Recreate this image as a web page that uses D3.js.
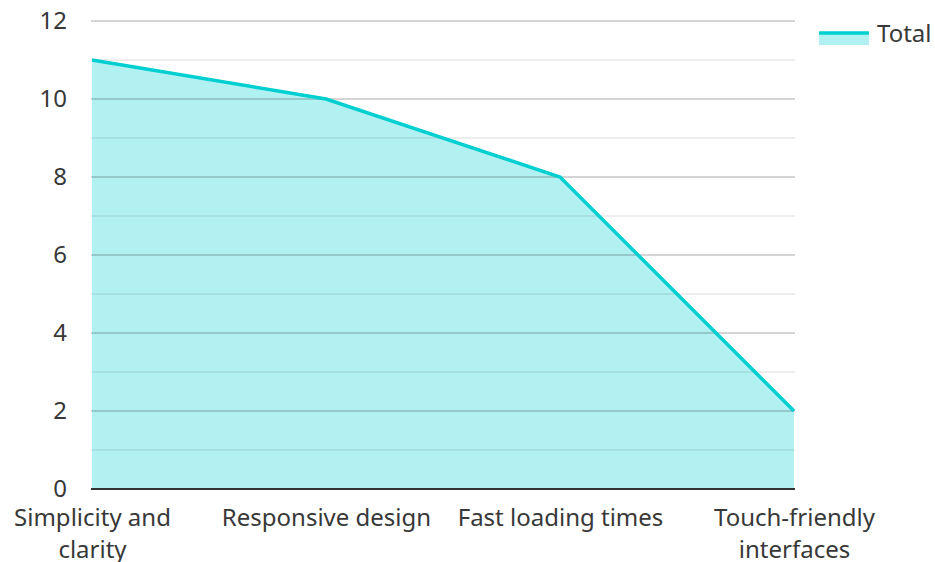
<!DOCTYPE html>
<html>
<head>
<meta charset="utf-8">
<script src="https://cdn.jsdelivr.net/npm/d3@7"></script>
<style>
  html, body { margin: 0; padding: 0; background: #fff; }
  svg { display: block; font-family: "Noto Sans", "Open Sans", sans-serif; }
</style>
</head>
<body>
<svg id="chart" width="935" height="562"></svg>
<script>
// Survey results: priorities for a good interface
const categories = ["Simplicity and clarity", "Responsive design", "Fast loading times", "Touch-friendly interfaces"];
const totals = [11, 10, 8, 2];
const seriesName = "Total";
const yTicks = [0, 2, 4, 6, 8, 10, 12];
const yMinorTicks = [1, 3, 5, 7, 9, 11];

const svg = d3.select("#chart");
const margin = { left: 92, right: 141, top: 21, bottom: 73 };
const W = 935, H = 562;
const fontSize = "24px";

const x = d3.scalePoint()
  .domain(categories)
  .range([margin.left, W - margin.right])
  .padding(0);

const y = d3.scaleLinear()
  .domain([0, 12])
  .range([H - margin.bottom, margin.top]);

const lineColor = "#00cfd1";
const fillColor = "rgba(0, 207, 209, 0.3)";
const textColor = "#383838";

const data = categories.map((c, i) => ({ cat: c, v: totals[i] }));

// filled area under the series
svg.append("path")
  .datum(data)
  .attr("fill", fillColor)
  .attr("d", d3.area()
    .x(d => x(d.cat))
    .y0(y(0))
    .y1(d => y(d.v)));

// grid lines drawn over the fill
const gx0 = margin.left - 1, gx1 = W - margin.right + 1;
svg.append("g").selectAll("line")
  .data(yMinorTicks)
  .join("line")
  .attr("x1", gx0).attr("x2", gx1)
  .attr("y1", d => y(d)).attr("y2", d => y(d))
  .attr("stroke", "rgba(0,0,0,0.09)")
  .attr("stroke-width", 1.5);

svg.append("g").selectAll("line")
  .data(yTicks.filter(t => t !== 0))
  .join("line")
  .attr("x1", gx0).attr("x2", gx1)
  .attr("y1", d => y(d)).attr("y2", d => y(d))
  .attr("stroke", "rgba(0,0,0,0.22)")
  .attr("stroke-width", 1.5);

// series line
svg.append("path")
  .datum(data)
  .attr("fill", "none")
  .attr("stroke", lineColor)
  .attr("stroke-width", 3.5)
  .attr("stroke-linejoin", "miter")
  .attr("d", d3.line()
    .x(d => x(d.cat))
    .y(d => y(d.v)));

// y axis labels
const yAxis = d3.axisLeft(y).tickValues(yTicks).tickSize(0).tickPadding(24);
const gy = svg.append("g")
  .attr("transform", `translate(${gx0},0)`)
  .call(yAxis);
gy.select(".domain").remove();
gy.selectAll("text")
  .attr("fill", textColor)
  .style("font-size", fontSize)
  .style("font-family", "'Noto Sans', 'Open Sans', sans-serif");

// x axis baseline
svg.append("line")
  .attr("x1", gx0).attr("x2", gx1)
  .attr("y1", y(0)).attr("y2", y(0))
  .attr("stroke", "#333")
  .attr("stroke-width", 2);

// x axis labels, wrapped to fit the category spacing
const xAxis = d3.axisBottom(x).tickSize(0).tickPadding(0);
const gxa = svg.append("g")
  .attr("transform", `translate(0,${y(0)})`)
  .call(xAxis);
gxa.select(".domain").remove();

function wrap(textSel, width) {
  textSel.each(function () {
    const text = d3.select(this);
    const words = text.text().split(/\s+/);
    text.text(null);
    let line = [];
    const lines = [];
    const probe = text.append("tspan");
    words.forEach(w => {
      line.push(w);
      probe.text(line.join(" "));
      if (probe.node().getComputedTextLength() > width && line.length > 1) {
        line.pop();
        lines.push(line.join(" "));
        line = [w];
      }
    });
    lines.push(line.join(" "));
    probe.remove();
    lines.forEach((l, i) => {
      text.append("tspan")
        .attr("x", 0)
        .attr("y", 37 + i * 31.5)
        .text(l);
    });
  });
}

gxa.selectAll("text")
  .attr("fill", textColor)
  .attr("dy", null)
  .style("font-size", fontSize)
  .style("font-family", "'Noto Sans', 'Open Sans', sans-serif")
  .call(wrap, 222);

// legend
const lg = svg.append("g").attr("transform", "translate(819,0)");
lg.append("rect")
  .attr("x", 0).attr("y", 32).attr("width", 50).attr("height", 13)
  .attr("fill", fillColor);
lg.append("line")
  .attr("x1", 0).attr("x2", 50).attr("y1", 33).attr("y2", 33)
  .attr("stroke", lineColor).attr("stroke-width", 3.5);
lg.append("text")
  .attr("x", 58).attr("y", 42)
  .attr("fill", textColor)
  .style("font-size", fontSize)
  .text(seriesName);
</script>
</body>
</html>
